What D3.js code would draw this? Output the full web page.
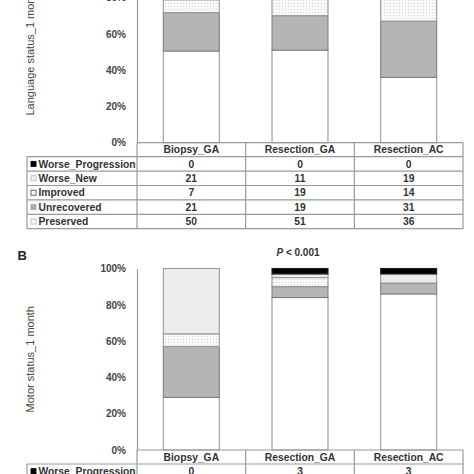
<!DOCTYPE html>
<html>
<head>
<meta charset="utf-8">
<script src="https://cdn.jsdelivr.net/npm/d3@7"></script>
<style>
  body { margin: 0; background: #fff; }
  svg { display: block; font-family: "Liberation Sans", Arial, sans-serif; }
</style>
</head>
<body>
<svg id="chart" width="474" height="474"></svg>
<script>
// categories + row labels (table order, top to bottom)
const categories = ["Biopsy_GA", "Resection_GA", "Resection_AC"];
const statusKeys = ["Worse_Progression", "Worse_New", "Improved", "Unrecovered", "Preserved"];
const yTicks = [0, 20, 40, 60, 80, 100];

// panel A - language status at 1 month (%)
const langProgression = [0, 0, 0];
const langWorseNew = [21, 11, 19];
const langImproved = [7, 19, 14];
const langUnrecovered = [21, 19, 31];
const langPreserved = [50, 51, 36];

// panel B - motor status at 1 month (%), only first row of table is visible
const motorProgression = [0, 3, 3];
const motorWorseNew = [36, 2, 5];
const motorImproved = [7, 5, 0];
const motorUnrecovered = [28, 6, 6];
const motorPreserved = [29, 84, 86];

const fills = {
  Worse_Progression: "#000",
  Worse_New: "#ececec",
  Improved: "url(#dots)",
  Unrecovered: "#b5b5b5",
  Preserved: "#fff"
};
const strokes = {
  Worse_Progression: "#222",
  Worse_New: "#999",
  Improved: "#999",
  Unrecovered: "#808080",
  Preserved: "#999"
};
const markerFill = {
  Worse_Progression: "#000",
  Worse_New: "#f2f2f2",
  Improved: "#fff",
  Unrecovered: "#aaa",
  Preserved: "#fff"
};
const markerStroke = {
  Worse_Progression: "#000",
  Worse_New: "#bbb",
  Improved: "#555",
  Unrecovered: "#aaa",
  Preserved: "#bbb"
};

const svg = d3.select("#chart");

// dotted fill used by "Improved"
const pat = svg.append("defs").append("pattern")
  .attr("id", "dots")
  .attr("width", 3).attr("height", 3)
  .attr("patternUnits", "userSpaceOnUse");
pat.append("rect").attr("width", 3).attr("height", 3).attr("fill", "#f9f9f9");
pat.append("rect").attr("width", 1).attr("height", 1).attr("fill", "#d2d2d2");

const left = 137, right = 463, tableLeft = 27;
const plotH = 181.5, headH = 14, rowH = 14.4;

const xBar = d3.scaleBand().domain(categories).range([left, right])
  .paddingInner(0.485).paddingOuter(0.2425);
const xCol = d3.scaleBand().domain(categories).range([left, right]);

function rowsFrom(series) {
  return categories.map((c, i) => {
    let r = { cat: c };
    statusKeys.forEach((k, j) => r[k] = series[j][i]);
    return r;
  });
}

function drawPanel(y0, series, title) {
  let g = svg.append("g");
  let rows = rowsFrom(series);

  let y = d3.scaleLinear().domain([0, 1]).range([y0, y0 - plotH]);

  // bottom to top: preserved first
  let stack = d3.stack()
    .keys(statusKeys.slice().reverse())
    .offset(d3.stackOffsetExpand);
  let layers = stack(rows);

  layers.forEach(layer => {
    g.selectAll(null)
      .data(layer.filter(d => d[1] - d[0] > 0))
      .enter().append("rect")
      .attr("x", d => xBar(d.data.cat))
      .attr("width", xBar.bandwidth())
      .attr("y", d => y(d[1]))
      .attr("height", d => y(d[0]) - y(d[1]))
      .attr("fill", fills[layer.key])
      .attr("stroke", strokes[layer.key])
      .attr("stroke-width", 1.1);
  });

  // y axis
  let yAxis = d3.axisLeft(d3.scaleLinear().domain([0, 100]).range([y0, y0 - plotH]))
    .tickValues(yTicks)
    .tickFormat(d => d + "%")
    .tickSize(0)
    .tickPadding(11);
  let ax = g.append("g").attr("transform", `translate(${left},0)`).call(yAxis);
  ax.select(".domain").attr("stroke", "#999").attr("stroke-width", 1.2);
  ax.selectAll("text")
    .attr("fill", "#444")
    .style("font-size", "10px")
    .style("font-weight", "bold")
    .style("font-family", "'Liberation Sans', Arial, sans-serif");

  // y title
  g.append("text")
    .attr("transform", `translate(34,${y0 - plotH / 2}) rotate(-90)`)
    .attr("text-anchor", "middle")
    .attr("fill", "#444")
    .style("font-size", "11px")
    .text(title);

  // data table
  let lineC = "#999";
  let tableBottom = y0 + headH + rowH * statusKeys.length;

  // header row
  g.append("line").attr("x1", left).attr("x2", right).attr("y1", y0).attr("y2", y0)
    .attr("stroke", lineC).attr("stroke-width", 1.2);
  g.selectAll(".hd").data(categories).enter().append("text")
    .attr("x", d => xCol(d) + xCol.bandwidth() / 2)
    .attr("y", y0 + headH / 2 + 3.6)
    .attr("text-anchor", "middle")
    .attr("fill", "#333")
    .style("font-size", "10.3px")
    .style("font-weight", "bold")
    .text(d => d);

  // horizontal rules
  d3.range(statusKeys.length + 1).forEach(i => {
    let yy = y0 + headH + i * rowH;
    g.append("line").attr("x1", tableLeft).attr("x2", right).attr("y1", yy).attr("y2", yy)
      .attr("stroke", lineC).attr("stroke-width", 1.2);
  });
  // vertical rules
  categories.forEach(c => {
    g.append("line").attr("x1", xCol(c)).attr("x2", xCol(c))
      .attr("y1", y0).attr("y2", tableBottom)
      .attr("stroke", lineC).attr("stroke-width", 1.2);
  });
  g.append("line").attr("x1", right).attr("x2", right).attr("y1", y0).attr("y2", tableBottom)
    .attr("stroke", lineC).attr("stroke-width", 1.2);
  g.append("line").attr("x1", tableLeft).attr("x2", tableLeft).attr("y1", y0 + headH).attr("y2", tableBottom)
    .attr("stroke", lineC).attr("stroke-width", 1.2);

  statusKeys.forEach((k, i) => {
    let cy = y0 + headH + i * rowH + rowH / 2;
    g.append("rect")
      .attr("x", 31).attr("y", cy - 2.5)
      .attr("width", 5).attr("height", 5)
      .attr("fill", markerFill[k]).attr("stroke", markerStroke[k]).attr("stroke-width", 0.9);
    g.append("text")
      .attr("x", 38.5).attr("y", cy + 3.6)
      .attr("fill", "#333")
      .style("font-size", "10.3px")
      .style("font-weight", "bold")
      .text(k);
    rows.forEach(r => {
      g.append("text")
        .attr("x", xCol(r.cat) + xCol.bandwidth() / 2)
        .attr("y", cy + 3.6)
        .attr("text-anchor", "middle")
        .attr("fill", "#333")
        .style("font-size", "10.3px")
        .style("font-weight", "bold")
        .text(r[k]);
    });
  });
  return g;
}

drawPanel(142.7,
  [langProgression, langWorseNew, langImproved, langUnrecovered, langPreserved],
  "Language status_1 month");

let yB = 450;
drawPanel(yB,
  [motorProgression, motorWorseNew, motorImproved, motorUnrecovered, motorPreserved],
  "Motor status_1 month");

// panel B heading
svg.append("text")
  .attr("x", 17.5).attr("y", 260)
  .attr("fill", "#222")
  .style("font-size", "13px")
  .style("font-weight", "bold")
  .text("B");

let pv = svg.append("text")
  .attr("x", xCol("Resection_GA") + xCol.bandwidth() / 2 - 2)
  .attr("y", 255.5)
  .attr("text-anchor", "middle")
  .attr("fill", "#333")
  .style("font-size", "10px")
  .style("font-weight", "bold");
pv.append("tspan").style("font-style", "italic").text("P");
pv.append("tspan").text(" < 0.001");
</script>
</body>
</html>
